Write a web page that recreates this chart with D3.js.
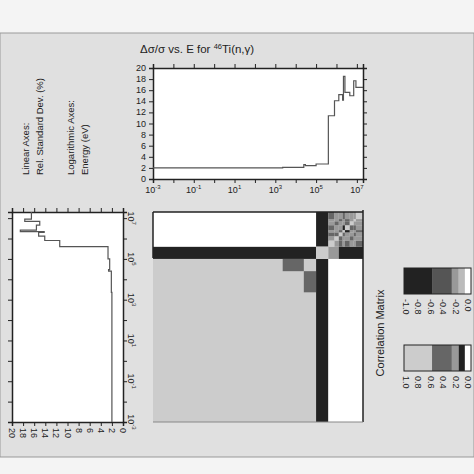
<!DOCTYPE html>
<html><head><meta charset="utf-8">
<script src="https://cdn.jsdelivr.net/npm/d3@7"></script>
<style>
body{margin:0;background:#f4f4f4}
text{font-family:"Liberation Sans",Arial,sans-serif;fill:#222}
.axis path,.axis line{stroke:#222}
</style></head>
<body><svg id="chart" width="474" height="474"></svg>
<script>
// step data: group bounds (eV) and rel. standard deviation (%)
const energyBounds = [1e-3, 2.3e3, 2.5e4, 3e4, 1e5, 4e5, 8e5, 1.3e6, 2e6, 2.2e6, 2.6e6, 4.5e6, 7e6, 9e6, 2e7];
const relStdDev = [2.0, 2.1, 2.6, 2.4, 2.7, 11.4, 14.1, 15.2, 14.2, 18.5, 15.6, 15.0, 17.7, 16.5];
const decadeLabels = [-3, -1, 1, 3, 5, 7];
const devTicks = [0, 2, 4, 6, 8, 10, 12, 14, 16, 18, 20];
// correlation blocks: [colE0, colE1, rowE0, rowE1, value]
const corrBlocks = [
  [1e-3, 1e5, 1e-3, 1e5, 1.0],
  [2.3e3, 2.5e4, 2.5e4, 1e5, 0.4],
  [2.5e4, 1e5, 2.3e3, 2.5e4, 0.4],
  [1e5, 4e5, 1e-3, 1e5, 0.1],
  [1e-3, 1e5, 1e5, 4e5, 0.1],
  [4e5, 2e7, 1e-3, 1e5, 0],
  [1e-3, 1e5, 4e5, 2e7, 0],
  [1e5, 4e5, 4e5, 2e7, 0.1],
  [1e5, 4e5, 1e5, 4e5, 1.0],
  [4e5, 1.3e6, 1e5, 4e5, 0.2],
  [1.3e6, 2e7, 1e5, 4e5, 0.1]
];
// high-energy group correlations
const hiBounds = [4e5, 8e5, 1.3e6, 2e6, 2.6e6, 4.5e6, 7e6, 9e6, 2e7];
const hiCorr = [
  [1.0, 0.2, 0.4, 0.2, 0.4, 0.2, 0.2, 0.4],
  [0.2, 1.0, 0.4, 0.2, 0.2, 0.4, 0.2, 0.2],
  [0.4, 0.4, 1.0, 0.4, 0.2, 0.2, 0.4, 0.2],
  [0.2, 0.2, 0.4, 1.0, 0.1, 0.2, 0.2, 0.4],
  [0.4, 0.2, 0.2, 0.1, 1.0, 0.4, 0.4, 0.2],
  [0.2, 0.4, 0.2, 0.2, 0.4, 1.0, 0.2, 0.2],
  [0.2, 0.2, 0.4, 0.2, 0.4, 0.2, 1.0, 0.2],
  [0.4, 0.2, 0.2, 0.4, 0.2, 0.2, 0.2, 1.0]
];
const legendTicks = [1.0, 0.8, 0.6, 0.4, 0.2, 0.0];
const legendStops = [1.0, 0.58, 0.26, 0.15, 0.05, 0.0];

const svg = d3.select("#chart");
svg.append("rect").attr("x", 0).attr("y", 33).attr("width", 474).attr("height", 424)
  .attr("fill", "#e0e0e0").attr("stroke", "#999");

const corrColor = d3.scaleThreshold().domain([0.05, 0.15, 0.26, 0.58])
  .range(["#fff", "#222", "#999", "#666", "#ccc"]);
const negColor = d3.scaleThreshold().domain([-0.58, -0.26, -0.15, -0.05])
  .range(["#222", "#555", "#999", "#bbb", "#fff"]);

function sup(sel, base, exp) {
  sel.append("tspan").text(base);
  sel.append("tspan").attr("dy", -4).attr("font-size", 6).text(exp);
}
function steps() {
  const pts = [];
  relStdDev.forEach((v, i) => { pts.push([energyBounds[i], v]); pts.push([energyBounds[i + 1], v]); });
  return pts;
}

// ---- top plot
const ex = d3.scaleLog().domain([1e-3, 2e7]).range([153, 363]);
const yv = d3.scaleLinear().domain([0, 20]).range([179, 68]);
const topG = svg.append("g");
topG.append("rect").attr("x", 153).attr("y", 68).attr("width", 210).attr("height", 111).attr("fill", "#fff");
const decades = d3.range(-3, 8).map(d => Math.pow(10, d));
topG.append("g").attr("class", "axis").attr("transform", "translate(0,179)")
  .call(d3.axisBottom(ex).tickValues(decades).tickSize(4).tickFormat(""));
topG.append("g").attr("class", "axis").attr("transform", "translate(0,68)")
  .call(d3.axisTop(ex).tickValues(decades).tickSize(4).tickFormat(""));
topG.append("g").attr("class", "axis").attr("transform", "translate(153,0)")
  .call(d3.axisLeft(yv).tickValues(devTicks).tickSize(4).tickFormat(""));
topG.append("g").attr("class", "axis").attr("transform", "translate(363,0)")
  .call(d3.axisRight(yv).tickValues(devTicks).tickSize(4).tickFormat(""));
topG.selectAll("path.domain").attr("stroke-width", 1.5);
topG.selectAll(".ylab").data(devTicks).enter().append("text")
  .attr("x", 146).attr("y", d => yv(d) + 3).attr("text-anchor", "end").attr("font-size", 9).text(d => d);
topG.selectAll(".xlab").data(decadeLabels).enter().append("text")
  .attr("x", d => ex(Math.pow(10, d))).attr("y", 193).attr("text-anchor", "middle").attr("font-size", 9)
  .each(function (d) { sup(d3.select(this), "10", d); });
topG.append("path").datum(steps()).attr("fill", "none").attr("stroke", "#555").attr("stroke-width", 1.2)
  .attr("d", d3.line().x(d => ex(d[0])).y(d => yv(d[1])));
const title = svg.append("text").attr("x", 140).attr("y", 53).attr("font-size", 11.5);
title.append("tspan").text("Δσ/σ vs. E for ");
title.append("tspan").attr("dy", -4).attr("font-size", 7.5).text("46");
title.append("tspan").attr("dy", 4).text("Ti(n,γ)");

// ---- side notes
[["Linear Axes:", 29], ["Rel. Standard Dev. (%)", 43], ["Logarithmic Axes:", 74], ["Energy (eV)", 88]]
  .forEach(([t, x]) => svg.append("text").attr("transform", `translate(${x},175) rotate(-90)`)
    .attr("font-size", 9.5).text(t));

// ---- left plot (rotated)
const ey = d3.scaleLog().domain([1e-3, 2e7]).range([422, 212]);
const xv = d3.scaleLinear().domain([20, 0]).range([12, 123]);
const leftG = svg.append("g");
leftG.append("rect").attr("x", 12).attr("y", 212).attr("width", 111).attr("height", 210).attr("fill", "#fff");
leftG.append("g").attr("class", "axis").attr("transform", "translate(12,0)")
  .call(d3.axisLeft(ey).tickValues(decades).tickSize(4).tickFormat(""));
leftG.append("g").attr("class", "axis").attr("transform", "translate(123,0)")
  .call(d3.axisRight(ey).tickValues(decades).tickSize(4).tickFormat(""));
leftG.append("g").attr("class", "axis").attr("transform", "translate(0,422)")
  .call(d3.axisBottom(xv).tickValues(devTicks).tickSize(4).tickFormat(""));
leftG.append("g").attr("class", "axis").attr("transform", "translate(0,212)")
  .call(d3.axisTop(xv).tickValues(devTicks).tickSize(4).tickFormat(""));
leftG.selectAll("path.domain").attr("stroke-width", 1.5);
leftG.append("path").datum(steps()).attr("fill", "none").attr("stroke", "#555").attr("stroke-width", 1.2)
  .attr("d", d3.line().x(d => xv(d[1])).y(d => ey(d[0])));
leftG.selectAll(".vlab").data(devTicks).enter().append("text")
  .attr("transform", d => `translate(${xv(d) - 3},428) rotate(90)`).attr("font-size", 9).text(d => d);
leftG.selectAll(".elab").data(decadeLabels).enter().append("text")
  .attr("transform", d => `translate(${128},${ey(Math.pow(10, d))}) rotate(90)`)
  .attr("text-anchor", "middle").attr("font-size", 9)
  .each(function (d) { sup(d3.select(this), "10", d); });

// ---- correlation matrix
const mat = svg.append("g");
mat.selectAll(".blk").data(corrBlocks).enter().append("rect")
  .attr("x", d => ex(d[0])).attr("width", d => ex(d[1]) - ex(d[0]))
  .attr("y", d => ey(d[3])).attr("height", d => ey(d[2]) - ey(d[3]))
  .attr("fill", d => corrColor(d[4]));
const hiCells = [];
hiCorr.forEach((row, i) => row.forEach((v, j) => hiCells.push([hiBounds[j], hiBounds[j + 1], hiBounds[i], hiBounds[i + 1], v])));
mat.selectAll(".hi").data(hiCells).enter().append("rect")
  .attr("x", d => ex(d[0])).attr("width", d => ex(d[1]) - ex(d[0]))
  .attr("y", d => ey(d[3])).attr("height", d => ey(d[2]) - ey(d[3]))
  .attr("fill", d => corrColor(d[4]));
mat.append("line").attr("x1", 153).attr("x2", 363).attr("y1", 212).attr("y2", 212).attr("stroke", "#222").attr("stroke-width", 1.5);
mat.append("line").attr("x1", 153).attr("x2", 153).attr("y1", 212).attr("y2", 258).attr("stroke", "#222").attr("stroke-width", 1.5);
mat.append("line").attr("x1", 363).attr("x2", 363).attr("y1", 210).attr("y2", 422).attr("stroke", "#222").attr("stroke-width", 1.5);
mat.append("line").attr("x1", 153).attr("x2", 363).attr("y1", 422).attr("y2", 422).attr("stroke", "#888");

// ---- legends
svg.append("text").attr("transform", "translate(384,333) rotate(-90)").attr("text-anchor", "middle")
  .attr("font-size", 11).text("Correlation Matrix");
const lx = d3.scaleLinear().domain([1, 0]).range([406, 468]);
function legend(y0, sign, color) {
  const segs = d3.range(legendStops.length - 1).map(i => [legendStops[i], legendStops[i + 1]]);
  const g = svg.append("g");
  g.selectAll("rect").data(segs).enter().append("rect")
    .attr("x", d => d[0] === 1 ? 404 : lx(d[0])).attr("width", d => lx(d[1]) - (d[0] === 1 ? 404 : lx(d[0])) + (d[1] === 0 ? 3 : 0))
    .attr("y", y0).attr("height", 26).attr("fill", d => color(sign * (d[0] + d[1]) / 2));
  g.append("rect").attr("x", 404).attr("y", y0).attr("width", 67).attr("height", 26)
    .attr("fill", "none").attr("stroke", "#222");
  g.selectAll("text").data(legendTicks).enter().append("text")
    .attr("transform", d => `translate(${lx(d) - 3},${y0 + 31}) rotate(90)`).attr("font-size", 9)
    .text(d => (sign < 0 && d > 0 ? "-" : "") + d.toFixed(1));
}
legend(268, -1, negColor);
legend(345, 1, corrColor);
</script></body></html>
